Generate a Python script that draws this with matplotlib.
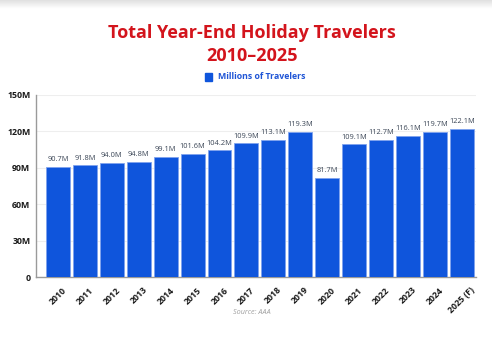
import numpy as np
import matplotlib.pyplot as plt

# Data
years = ["2010", "2011", "2012", "2013", "2014", "2015", "2016", "2017",
         "2018", "2019", "2020", "2021", "2022", "2023", "2024", "2025 (F)"]
travelers = [90.7, 91.8, 94.0, 94.8, 99.1, 101.6, 104.2, 109.9,
             113.1, 119.3, 81.7, 109.1, 112.7, 116.1, 119.7, 122.1]
yticks = [0, 30, 60, 90, 120, 150]
ytick_labels = ["0", "30M", "60M", "90M", "120M", "150M"]

blue = "#0F55DC"
red = "#D3141C"

plt.rcParams['font.family'] = ['Open Sans', 'DejaVu Sans']

fig = plt.figure(figsize=(4.92, 3.43), dpi=100)
ax = fig.add_axes([0.073, 0.192, 0.894, 0.532])

x = np.arange(len(years))
bars = ax.bar(x, travelers, width=0.89, color=blue, edgecolor="#7fa3ee",
              linewidth=0.6, zorder=3)

for xi, v in zip(x, travelers):
    ax.text(xi, v + 3, f"{v:.1f}M", ha="center", va="bottom",
            fontsize=5.4, color="#3b4656", zorder=4)

ax.set_xlim(-0.82, 15.52)
ax.set_ylim(0, 150)
ax.set_yticks(yticks)
ax.set_yticklabels(ytick_labels, fontsize=6.3, fontweight="bold", color="#1a1a1a")
ax.set_xticks(x)
ax.set_xticklabels(years, rotation=45, ha="center", fontsize=6.3,
                   fontweight="bold", color="#1a1a1a")
ax.tick_params(axis="both", length=0, pad=4)
ax.tick_params(axis="x", pad=6)

ax.grid(axis="y", color="#eeeeee", linewidth=0.8, zorder=0)
for s in ["top", "right"]:
    ax.spines[s].set_visible(False)
for s in ["left", "bottom"]:
    ax.spines[s].set_color("#9a9a9a")
    ax.spines[s].set_linewidth(1.0)

# title and legend
fig.text(0.512, 0.905, "Total Year-End Holiday Travelers", ha="center", va="center",
         fontsize=13, fontweight="bold", color=red)
fig.text(0.512, 0.838, "2010\u20132025", ha="center", va="center",
         fontsize=13, fontweight="bold", color=red)
fig.patches.append(plt.Rectangle((0.416, 0.765), 0.015, 0.022, color=blue,
                                 transform=fig.transFigure, figure=fig))
fig.text(0.443, 0.776, "Millions of Travelers", ha="left", va="center",
         fontsize=6.3, fontweight="bold", color="#1f55d6")

fig.text(0.512, 0.09, "Source: AAA", ha="center", va="center",
         fontsize=5.2, style="italic", color="#a0a0a0")

# soft shadow along the top edge
grad = np.linspace(0.88, 1.0, 20).reshape(-1, 1)
sh = fig.add_axes([0, 0.975, 1, 0.025])
sh.imshow(grad, cmap="gray", vmin=0, vmax=1, aspect="auto", extent=[0, 1, 0, 1])
sh.axis("off")

fig.savefig("out.png", dpi=100)
